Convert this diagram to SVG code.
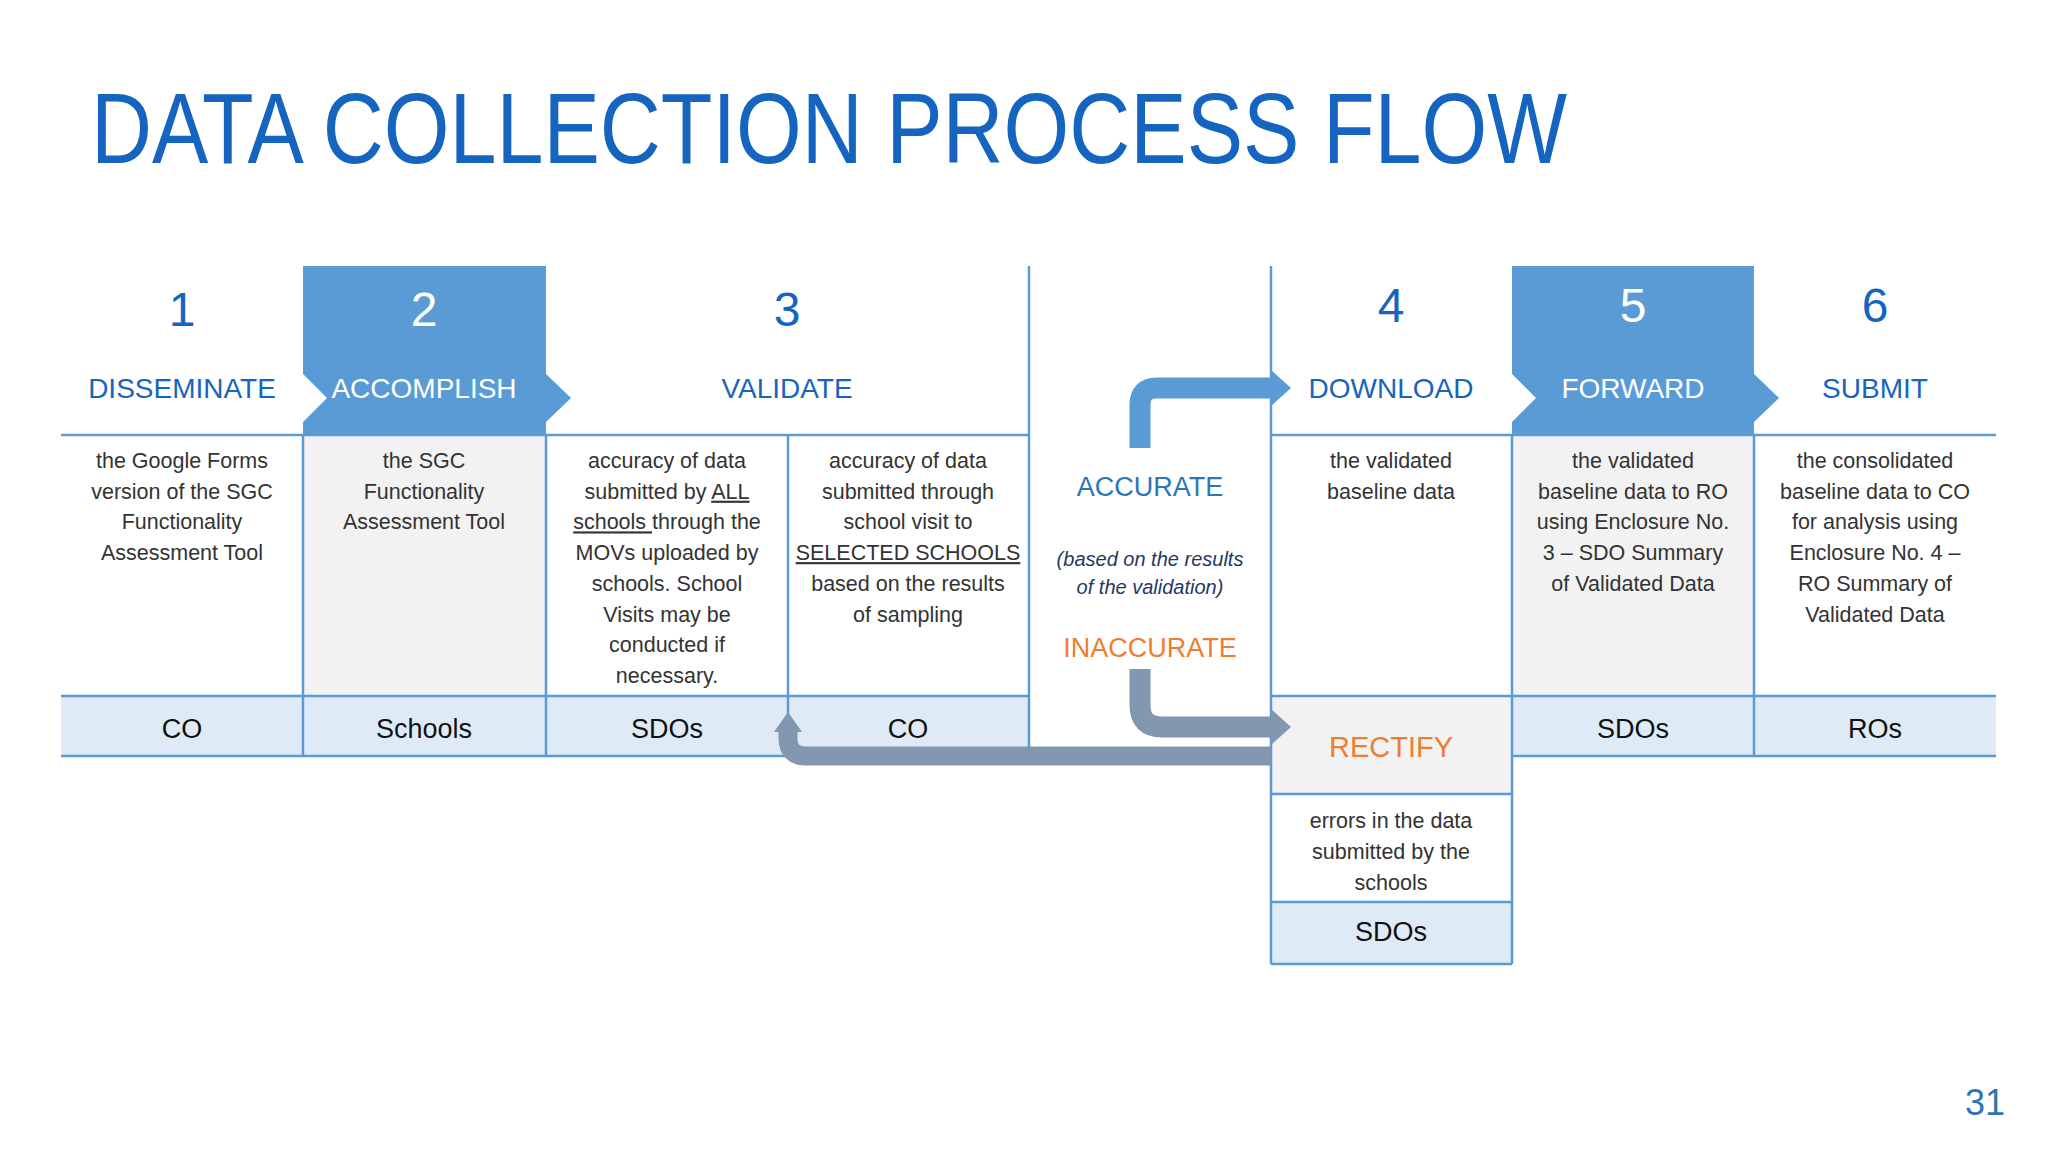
<svg xmlns="http://www.w3.org/2000/svg" width="2048" height="1152" viewBox="0 0 2048 1152">
<defs>
<style>
text{font-family:"Liberation Sans","Noto Sans",sans-serif;text-anchor:middle}
.num{font-size:48px;fill:#1565c0}
.numw{font-size:48px;fill:#fff}
.hd{font-size:28px;fill:#1565c0}
.hdw{font-size:28px;fill:#fff}
.bd{font-size:21.5px;fill:#333}
.ft{font-size:27px;fill:#111}
.ln{stroke:#5b9bd5;stroke-width:2.5;fill:none}
.u{text-decoration:underline}
</style>
</defs>
<rect width="2048" height="1152" fill="#fff"/>
<text x="91" y="163" style="text-anchor:start;font-size:100px;fill:#1565c0" textLength="1476" lengthAdjust="spacingAndGlyphs">DATA COLLECTION PROCESS FLOW</text>

<g id="backgrounds">
<rect x="303" y="266" width="243" height="169" fill="#5b9bd5"/>
<polygon points="303,374 327,398 303,422" fill="#fff"/>
<polygon points="546,374 571,398 546,422" fill="#5b9bd5"/>
<rect x="1512" y="266" width="242" height="169" fill="#5b9bd5"/>
<polygon points="1512,374 1536,398 1512,422" fill="#fff"/>
<polygon points="1754,374 1779,398 1754,422" fill="#5b9bd5"/>
<rect x="303" y="435" width="243" height="261" fill="#f2f2f2"/>
<rect x="1512" y="435" width="242" height="261" fill="#f2f2f2"/>
<rect x="61" y="696" width="968" height="60" fill="#deebf7"/>
<rect x="1512" y="696" width="484" height="60" fill="#deebf7"/>
<rect x="1271" y="696" width="241" height="98" fill="#f2f2f2"/>
<rect x="1271" y="902" width="241" height="62" fill="#deebf7"/>
</g>

<g id="grid">
<line class="ln" x1="61" y1="435" x2="1029" y2="435"/>
<line class="ln" x1="1271" y1="435" x2="1996" y2="435"/>
<line class="ln" x1="61" y1="696" x2="1029" y2="696"/>
<line class="ln" x1="1271" y1="696" x2="1996" y2="696"/>
<line class="ln" x1="61" y1="756" x2="1029" y2="756"/>
<line class="ln" x1="1512" y1="756" x2="1996" y2="756"/>
<line class="ln" x1="303" y1="435" x2="303" y2="756"/>
<line class="ln" x1="546" y1="435" x2="546" y2="756"/>
<line class="ln" x1="788" y1="435" x2="788" y2="756"/>
<line class="ln" x1="1029" y1="266" x2="1029" y2="748"/>
<line class="ln" x1="1271" y1="266" x2="1271" y2="964"/>
<line class="ln" x1="1512" y1="435" x2="1512" y2="964"/>
<line class="ln" x1="1754" y1="435" x2="1754" y2="756"/>
<line class="ln" x1="1271" y1="794" x2="1512" y2="794"/>
<line class="ln" x1="1271" y1="902" x2="1512" y2="902"/>
<line class="ln" x1="1271" y1="964" x2="1512" y2="964"/>
</g>

<g id="connectors">
<path d="M1140,448 V405 Q1140,388 1157,388 H1275" stroke="#5b9bd5" stroke-width="21" fill="none"/>
<polygon points="1271,370 1291,388 1271,406" fill="#5b9bd5"/>
<path d="M1140,669 V705 Q1140,727 1162,727 H1275" stroke="#8497b0" stroke-width="21" fill="none"/>
<polygon points="1271,709 1291,727 1271,745" fill="#8497b0"/>
<path d="M1271,756 H806 Q788,756 788,738 V728" stroke="#8497b0" stroke-width="19" fill="none"/>
<polygon points="774,732 788,712 802,732" fill="#8497b0"/>
</g>

<g id="n1">
<text class="num" x="182" y="326">1</text>
<text class="hd" x="182" y="398">DISSEMINATE</text>
<text class="bd" x="182" y="468">the Google Forms<tspan x="182" dy="30.7">version of the SGC</tspan><tspan x="182" dy="30.7">Functionality</tspan><tspan x="182" dy="30.7">Assessment Tool</tspan></text>
<text class="ft" x="182" y="738">CO</text>
</g>
<g id="n2">
<text class="numw" x="424" y="326">2</text>
<text class="hdw" x="424" y="398">ACCOMPLISH</text>
<text class="bd" x="424" y="468">the SGC<tspan x="424" dy="30.7">Functionality</tspan><tspan x="424" dy="30.7">Assessment Tool</tspan></text>
<text class="ft" x="424" y="738">Schools</text>
</g>
<g id="n3">
<text class="num" x="787" y="326">3</text>
<text class="hd" x="787" y="398">VALIDATE</text>
<text class="bd" x="667" y="468">accuracy of data<tspan x="667" dy="30.7">submitted by <tspan class="u">ALL</tspan></tspan><tspan x="667" dy="30.7"><tspan class="u">schools </tspan>through the</tspan><tspan x="667" dy="30.7">MOVs uploaded by</tspan><tspan x="667" dy="30.7">schools. School</tspan><tspan x="667" dy="30.7">Visits may be</tspan><tspan x="667" dy="30.7">conducted if</tspan><tspan x="667" dy="30.7">necessary.</tspan></text>
<text class="bd" x="908" y="468">accuracy of data<tspan x="908" dy="30.7">submitted through</tspan><tspan x="908" dy="30.7">school visit to</tspan><tspan x="908" dy="30.7" class="u">SELECTED SCHOOLS</tspan><tspan x="908" dy="30.7">based on the results</tspan><tspan x="908" dy="30.7">of sampling</tspan></text>
<text class="ft" x="667" y="738">SDOs</text>
<text class="ft" x="908" y="738">CO</text>
</g>
<g id="decision">
<text x="1150" y="496" style="font-size:27px;fill:#2e75b6">ACCURATE</text>
<text x="1150" y="566" style="font-size:20px;fill:#1f3864;font-style:italic">(based on the results<tspan x="1150" dy="28">of the validation)</tspan></text>
<text x="1150" y="657" style="font-size:27px;fill:#ed7d31">INACCURATE</text>
</g>
<g id="n4">
<text class="num" x="1391" y="322">4</text>
<text class="hd" x="1391" y="398">DOWNLOAD</text>
<text class="bd" x="1391" y="468">the validated<tspan x="1391" dy="30.7">baseline data</tspan></text>
</g>
<g id="rectify">
<text x="1391" y="757" style="font-size:29px;fill:#ed7d31">RECTIFY</text>
<text class="bd" x="1391" y="828">errors in the data<tspan x="1391" dy="31">submitted by the</tspan><tspan x="1391" dy="31">schools</tspan></text>
<text class="ft" x="1391" y="941">SDOs</text>
</g>
<g id="n5">
<text class="numw" x="1633" y="322">5</text>
<text class="hdw" x="1633" y="398">FORWARD</text>
<text class="bd" x="1633" y="468">the validated<tspan x="1633" dy="30.7">baseline data to RO</tspan><tspan x="1633" dy="30.7">using Enclosure No.</tspan><tspan x="1633" dy="30.7">3 – SDO Summary</tspan><tspan x="1633" dy="30.7">of Validated Data</tspan></text>
<text class="ft" x="1633" y="738">SDOs</text>
</g>
<g id="n6">
<text class="num" x="1875" y="322">6</text>
<text class="hd" x="1875" y="398">SUBMIT</text>
<text class="bd" x="1875" y="468">the consolidated<tspan x="1875" dy="30.7">baseline data to CO</tspan><tspan x="1875" dy="30.7">for analysis using</tspan><tspan x="1875" dy="30.7">Enclosure No. 4 –</tspan><tspan x="1875" dy="30.7">RO Summary of</tspan><tspan x="1875" dy="30.7">Validated Data</tspan></text>
<text class="ft" x="1875" y="738">ROs</text>
</g>
<text x="1985" y="1115" style="font-size:36px;fill:#2e75b6">31</text>
</svg>
